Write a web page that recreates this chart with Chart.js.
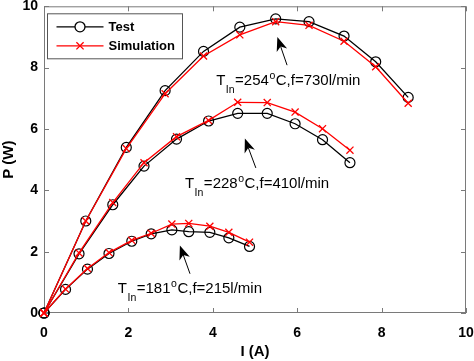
<!DOCTYPE html>
<html>
<head>
<meta charset="utf-8">
<script src="https://cdn.jsdelivr.net/npm/chart.js@4/dist/chart.umd.min.js"></script>
<style>
html,body{margin:0;padding:0;background:#fff;}
#wrap{width:474px;height:361px;}
</style>
</head>
<body>
<div id="wrap"><canvas id="c" width="474" height="361"></canvas></div>
<script>
// ---- data ----
const xTicks = [0, 2, 4, 6, 8, 10];
const yTicks = [0, 2, 4, 6, 8, 10];

const current254 = [0, 0.99, 1.95, 2.87, 3.78, 4.64, 5.49, 6.28, 7.11, 7.86, 8.63];
const test254    = [0, 3.00, 5.40, 7.25, 8.53, 9.32, 9.59, 9.50, 9.03, 8.19, 7.03];
const sim254     = [0, 3.00, 5.36, 7.15, 8.38, 9.07, 9.50, 9.38, 8.86, 8.03, 6.84];

const current228 = [0, 0.83, 1.63, 2.37, 3.14, 3.90, 4.59, 5.29, 5.95, 6.60, 7.25];
const test228    = [0, 1.93, 3.53, 4.79, 5.67, 6.26, 6.51, 6.51, 6.17, 5.65, 4.90];
const sim228     = [0, 1.96, 3.60, 4.90, 5.75, 6.28, 6.87, 6.86, 6.55, 6.01, 5.31];

const current181 = [0, 0.51, 1.03, 1.54, 2.08, 2.54, 3.03, 3.43, 3.93, 4.38, 4.87];
const test181    = [0, 0.77, 1.43, 1.94, 2.34, 2.58, 2.71, 2.65, 2.63, 2.45, 2.17];
const sim181     = [0, 0.78, 1.45, 1.97, 2.37, 2.60, 2.90, 2.92, 2.83, 2.63, 2.31];

const legendLabels = ['Test', 'Simulation'];
// annotation: [main, sub, value, sup, rest], text anchor (x,y) and arrow tip/tail in data units
const annotations = [
  {parts: ['T', 'In', '=254', 'o', 'C,f=730l/min'], at: [4.08, 7.44], tip: [5.53, 9.00], tail: [5.76, 8.08]},
  {parts: ['T', 'In', '=228', 'o', 'C,f=410l/min'], at: [3.34, 4.09], tip: [4.76, 5.69], tail: [5.02, 4.73]},
  {parts: ['T', 'In', '=181', 'o', 'C,f=215l/min'], at: [1.75, 0.64], tip: [3.22, 2.20], tail: [3.46, 1.28]}
];

const FONT = "'Liberation Sans', Arial, Helvetica, sans-serif";
const BLACK = '#000000';
const RED = '#ff0000';

function pts(xs, ys){ return xs.map((x, i) => ({x: x, y: ys[i]})); }

function testDs(xs, ys){
  return {label: legendLabels[0], data: pts(xs, ys), borderColor: BLACK, backgroundColor: 'rgba(0,0,0,0)',
    borderWidth: 1.3, pointStyle: 'circle', pointRadius: 5, pointBorderWidth: 1.2,
    pointBorderColor: BLACK, pointBackgroundColor: 'rgba(0,0,0,0)', showLine: true, tension: 0, clip: false, order: 2};
}
function simDs(xs, ys){
  return {label: legendLabels[1], data: pts(xs, ys), borderColor: RED, backgroundColor: RED,
    borderWidth: 1.3, pointStyle: 'crossRot', pointRadius: 5, pointBorderWidth: 1.3,
    pointBorderColor: RED, showLine: true, tension: 0, clip: false, order: 1};
}

const frame = {
  id: 'frame',
  beforeDatasetsDraw(chart){
    const {ctx, chartArea: a, scales: {x, y}} = chart;
    ctx.save();
    ctx.strokeStyle = '#7a7a7a';
    ctx.lineWidth = 1;
    ctx.strokeRect(a.left + 0.5, a.top + 0.5, a.right - a.left - 1, a.bottom - a.top - 1);
    const L = 5;
    ctx.beginPath();
    xTicks.forEach(v => {
      const px = Math.round(x.getPixelForValue(v)) + 0.5;
      ctx.moveTo(px, a.bottom); ctx.lineTo(px, a.bottom - L);
      ctx.moveTo(px, a.top); ctx.lineTo(px, a.top + L);
    });
    yTicks.forEach(v => {
      const py = Math.round(y.getPixelForValue(v)) + 0.5;
      ctx.moveTo(a.left, py); ctx.lineTo(a.left + L, py);
      ctx.moveTo(a.right, py); ctx.lineTo(a.right - L, py);
    });
    ctx.stroke();
    ctx.restore();
  },
  afterDraw(chart){
    const {ctx, chartArea: a, scales: {x, y}} = chart;
    ctx.save();
    // legend box
    const bx = a.left + 3.5, by = a.top + 7.5, bw = 135, bh = 45;
    ctx.fillStyle = '#fff';
    ctx.fillRect(bx, by, bw, bh);
    ctx.strokeStyle = '#555';
    ctx.lineWidth = 1;
    ctx.strokeRect(bx, by, bw, bh);
    const rows = [by + 13, by + 32];
    const x0 = bx + 9, x1 = bx + 56, xm = (x0 + x1) / 2;
    // Test
    ctx.strokeStyle = BLACK; ctx.lineWidth = 1.3;
    ctx.beginPath(); ctx.moveTo(x0, rows[0]); ctx.lineTo(x1, rows[0]); ctx.stroke();
    ctx.fillStyle = '#fff';
    ctx.beginPath(); ctx.arc(xm, rows[0], 5, 0, Math.PI * 2); ctx.fill(); ctx.stroke();
    // Simulation
    ctx.strokeStyle = RED;
    ctx.beginPath(); ctx.moveTo(x0, rows[1]); ctx.lineTo(x1, rows[1]); ctx.stroke();
    ctx.beginPath();
    ctx.moveTo(xm - 3.6, rows[1] - 3.6); ctx.lineTo(xm + 3.6, rows[1] + 3.6);
    ctx.moveTo(xm + 3.6, rows[1] - 3.6); ctx.lineTo(xm - 3.6, rows[1] + 3.6);
    ctx.stroke();
    ctx.fillStyle = '#000';
    ctx.font = 'bold 13px ' + FONT;
    ctx.textBaseline = 'middle';
    ctx.textAlign = 'left';
    ctx.fillText(legendLabels[0], x1 + 5, rows[0] + 0.5);
    ctx.fillText(legendLabels[1], x1 + 5, rows[1] + 0.5);

    // annotations
    ctx.textBaseline = 'alphabetic';
    annotations.forEach(an => {
      let px = x.getPixelForValue(an.at[0]);
      const py = y.getPixelForValue(an.at[1]);
      const [m, sub, val, sup, rest] = an.parts;
      ctx.font = '15px ' + FONT;
      ctx.fillText(m, px, py); px += ctx.measureText(m).width + 0.5;
      ctx.font = '10.5px ' + FONT;
      ctx.fillText(sub, px, py + 8); px += ctx.measureText(sub).width + 0.5;
      ctx.font = '15px ' + FONT;
      ctx.fillText(val, px, py); px += ctx.measureText(val).width + 0.5;
      ctx.font = '10.5px ' + FONT;
      ctx.fillText(sup, px, py - 6); px += ctx.measureText(sup).width + 0.5;
      ctx.font = '15px ' + FONT;
      ctx.fillText(rest, px, py);

      // arrow
      const tx = x.getPixelForValue(an.tip[0]), ty = y.getPixelForValue(an.tip[1]);
      const sx = x.getPixelForValue(an.tail[0]), sy = y.getPixelForValue(an.tail[1]);
      const ang = Math.atan2(ty - sy, tx - sx);
      const hl = 14, hw = 5.5, notch = 10;
      ctx.strokeStyle = '#000'; ctx.lineWidth = 1;
      ctx.beginPath(); ctx.moveTo(sx, sy);
      ctx.lineTo(tx - Math.cos(ang) * notch, ty - Math.sin(ang) * notch); ctx.stroke();
      const bxp = tx - Math.cos(ang) * hl, byp = ty - Math.sin(ang) * hl;
      const nx = -Math.sin(ang), ny = Math.cos(ang);
      ctx.beginPath();
      ctx.moveTo(tx, ty);
      ctx.lineTo(bxp + nx * hw, byp + ny * hw);
      ctx.lineTo(tx - Math.cos(ang) * notch, ty - Math.sin(ang) * notch);
      ctx.lineTo(bxp - nx * hw, byp - ny * hw);
      ctx.closePath();
      ctx.fillStyle = '#000';
      ctx.fill();
    });
    ctx.restore();
  }
};

function fixPad(s){ s.paddingLeft = 0; s.paddingRight = 0; s.paddingTop = 0; s.paddingBottom = 0; }

new Chart(document.getElementById('c'), {
  type: 'scatter',
  data: {
    datasets: [
      testDs(current254, test254), simDs(current254, sim254),
      testDs(current228, test228), simDs(current228, sim228),
      testDs(current181, test181), simDs(current181, sim181)
    ]
  },
  options: {
    responsive: false,
    animation: false,
    devicePixelRatio: 1,
    layout: {padding: {left: 0, top: 5, right: 8, bottom: 0}},
    plugins: {legend: {display: false}, tooltip: {enabled: false}},
    scales: {
      x: {
        type: 'linear', min: 0, max: 10,
        afterBuildTicks(s){ s.ticks = xTicks.map(v => ({value: v})); },
        afterFit(s){ s.height = 48; fixPad(s); },
        grid: {display: false, drawTicks: false},
        border: {display: false},
        ticks: {color: '#000', font: {family: FONT, size: 14, weight: 'bold'}, padding: 12, maxRotation: 0, autoSkip: false},
        title: {display: true, text: 'I (A)', color: '#000', font: {family: FONT, size: 15, weight: 'bold'}, padding: {top: 0, bottom: 0}}
      },
      y: {
        type: 'linear', min: 0, max: 10,
        afterBuildTicks(s){ s.ticks = yTicks.map(v => ({value: v})); },
        afterFit(s){ s.width = 44; fixPad(s); },
        grid: {display: false, drawTicks: false},
        border: {display: false},
        ticks: {color: '#000', font: {family: FONT, size: 14, weight: 'bold'}, padding: 6, autoSkip: false},
        title: {display: true, text: 'P (W)', color: '#000', font: {family: FONT, size: 15, weight: 'bold'}, padding: {top: 0, bottom: 0}}
      }
    }
  },
  plugins: [frame]
});
</script>
</body>
</html>
